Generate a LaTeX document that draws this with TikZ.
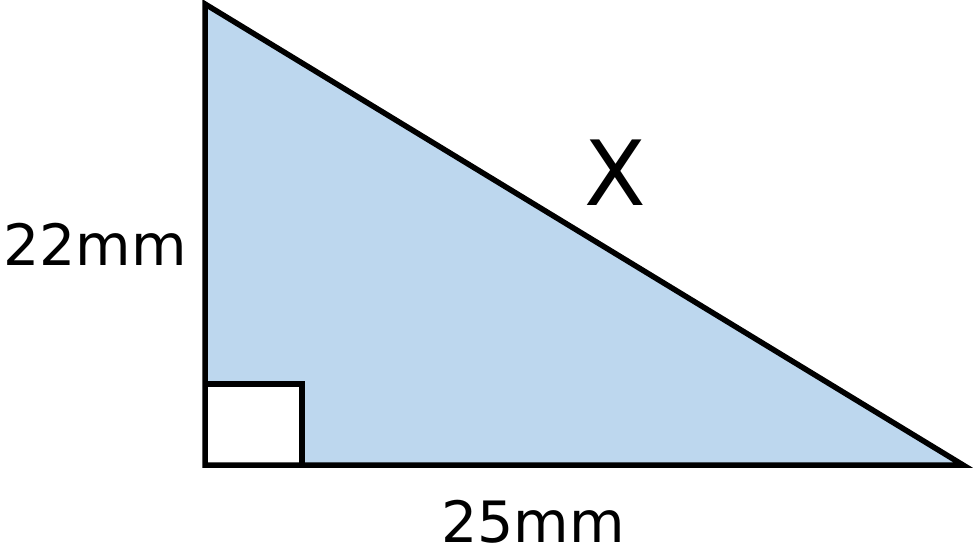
\documentclass[tikz,border=0pt]{standalone}
\usepackage{fontspec}
\setmainfont{DejaVu Sans}
\definecolor{triblue}{RGB}{189,215,238}
\begin{document}
\begin{tikzpicture}[x=1pt,y=-1pt,
  edge/.style={draw=black,line width=5.5pt,line join=miter},
  lbl/.style={inner sep=0pt,anchor=base,font=\fontsize{57}{68}\selectfont},
  biglbl/.style={inner sep=0pt,anchor=base,font=\fontsize{90}{108}\selectfont}]
\useasboundingbox (0,0) rectangle (976,559);
\coordinate (A) at (205,4);
\coordinate (B) at (205,465);
\coordinate (C) at (963,465);
\coordinate (S1) at (205,384);
\coordinate (S2) at (302,384);
\coordinate (S3) at (302,465);
\fill[triblue] (A) -- (B) -- (C) -- cycle;
\fill[white] (B) rectangle (S2);
\draw[edge] (S1) -- (S2) -- (S3);
\draw[edge] (A) -- (B) -- (C) -- cycle;
\node[lbl] (h) at (95,265) {22mm};
\node[lbl] (b) at (533,542) {25mm};
\node[biglbl] (x) at (615,205) {X};
\end{tikzpicture}
\end{document}
